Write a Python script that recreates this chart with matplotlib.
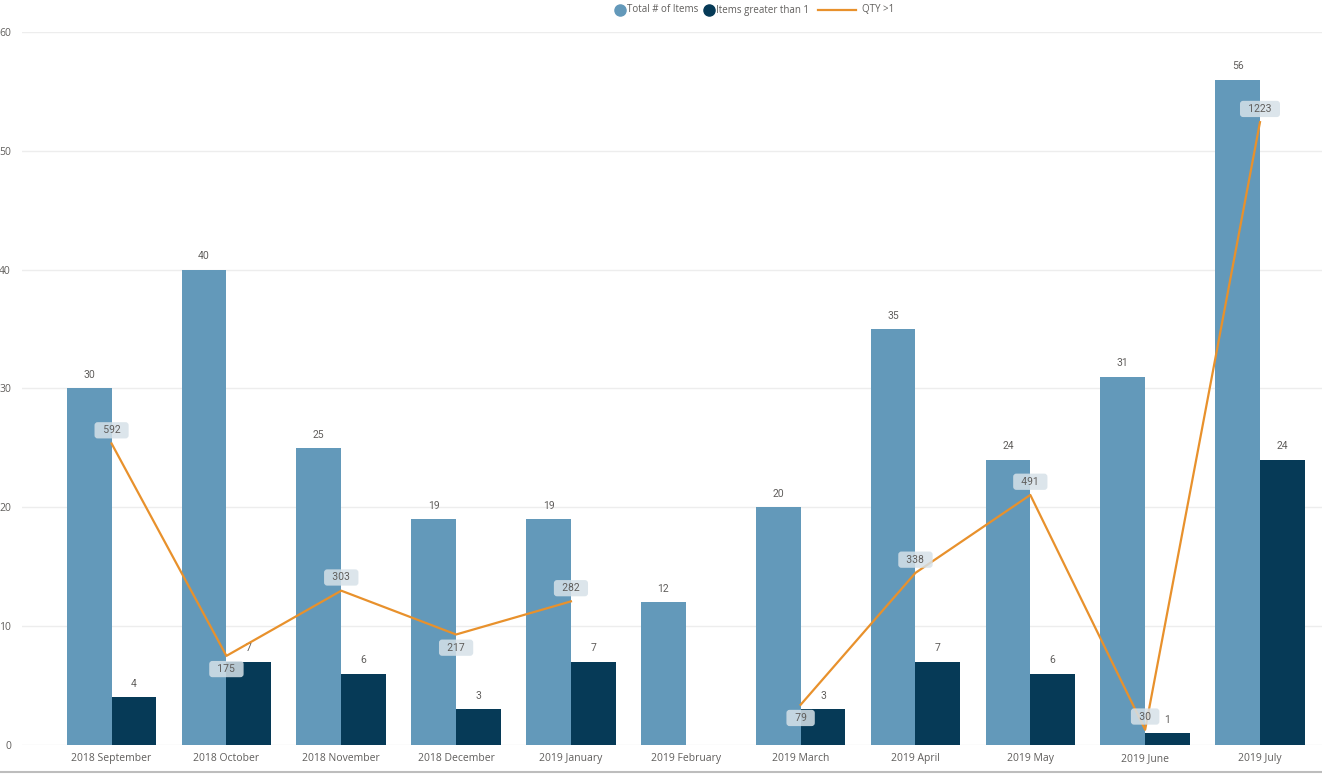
import numpy as np
import matplotlib.pyplot as plt
from matplotlib.lines import Line2D

# data
months = ['2018 September', '2018 October', '2018 November', '2018 December',
          '2019 January', '2019 February', '2019 March', '2019 April',
          '2019 May', '2019 June', '2019 July']
total_items = [30, 40, 25, 19, 19, 12, 20, 35, 24, 31, 56]
items_gt1 = [4, 7, 6, 3, 7, np.nan, 3, 7, 6, 1, 24]
qty_gt1 = [592, 175, 303, 217, 282, np.nan, 79, 338, 491, 30, 1223]

# label placement for the line values: +1 above, -1 below
qty_side = [1, -1, 1, -1, 1, 0, -1, 1, 1, 1, 1]

c_light = '#6399BA'
c_dark = '#063A57'
c_line = '#E8912C'
c_text = '#605E5C'
lab_font = ['Roboto', 'DejaVu Sans']

plt.rcParams['font.family'] = ['Open Sans', 'DejaVu Sans']

W, H = 1322, 774
fig = plt.figure(figsize=(W/100, H/100), dpi=100)
ax = fig.add_axes([22/W, 1 - 745/H, 1 - 22/W, (745 - 32)/H])

x = np.arange(len(months))
w = 0.39
ax.bar(x - w/2, total_items, w, color=c_light, zorder=2)
ax.bar(x + w/2, items_gt1, w, color=c_dark, zorder=2)

for xi, v in zip(x, total_items):
    ax.annotate(str(v), (xi - w/2, v), xytext=(0, 6), textcoords='offset points',
                ha='center', va='bottom', fontsize=7.5, color=c_text, family=lab_font)
for xi, v in zip(x, items_gt1):
    if np.isnan(v):
        continue
    ax.annotate(str(int(v)), (xi + w/2, v), xytext=(0, 6), textcoords='offset points',
                ha='center', va='bottom', fontsize=7.5, color=c_text, family=lab_font)

ax.set_ylim(0, 60)
ax.set_yticks(range(0, 61, 10))
ax.set_xlim(-0.78, 10.54)
ax.set_xticks(x)
ax.set_xticklabels(months)
ax.tick_params(axis='both', length=0, labelsize=7.5, colors=c_text)
ax.tick_params(axis='y', pad=8)
ax.tick_params(axis='x', pad=6)
ax.grid(axis='y', color='#EDEDED', linewidth=1, zorder=0)
ax.set_axisbelow(True)
for s in ax.spines.values():
    s.set_visible(False)

ax2 = ax.twinx()
ax2.set_ylim(0, 1400)
ax2.plot(x, qty_gt1, color=c_line, linewidth=1.6, zorder=3)
ax2.set_yticks([])
for s in ax2.spines.values():
    s.set_visible(False)

for xi, v, sd in zip(x, qty_gt1, qty_side):
    if np.isnan(v):
        continue
    ax2.annotate('  %d  ' % v, (xi, v), xytext=(0, 9.5 * sd), textcoords='offset points',
                 ha='center', va='center', fontsize=7.5, color=c_text, family=lab_font,
                 bbox=dict(boxstyle='round,pad=0.3', fc='#D6E1E8', ec='none', alpha=0.85))

# legend drawn by hand at the top
ly = 1 - 10/H
fig.add_artist(Line2D([620/W], [ly], marker='o', markersize=8, color=c_light, linestyle='none'))
fig.text(627/W, ly, 'Total # of Items', fontsize=7, color=c_text, va='center')
fig.add_artist(Line2D([709/W], [ly], marker='o', markersize=8, color=c_dark, linestyle='none'))
fig.text(716/W, ly, 'Items greater than 1', fontsize=7, color=c_text, va='center')
fig.add_artist(Line2D([818/W, 856/W], [ly, ly], color=c_line, linewidth=1.6))
fig.text(862/W, ly, 'QTY >1', fontsize=7, color=c_text, va='center')

fig.add_artist(Line2D([0, 1], [1 - 771.5/H, 1 - 771.5/H], color='#BDBDBD', linewidth=1.5))

fig.savefig('out.png', dpi=100)
